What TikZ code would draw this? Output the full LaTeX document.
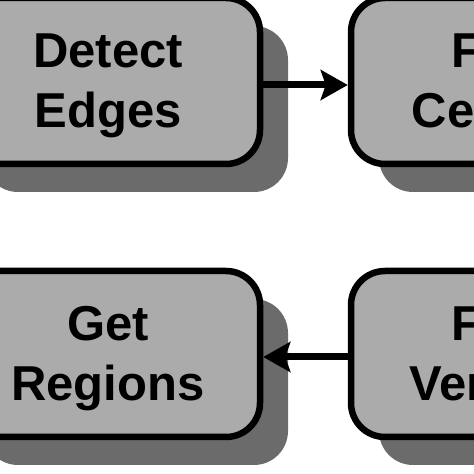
\documentclass[tikz,border=0pt]{standalone}
\usepackage{fontspec}
\setmainfont{Liberation Sans}
\usetikzlibrary{arrows.meta,shadows}
\begin{document}
\begin{tikzpicture}[x=1pt,y=1pt,
  stepbox/.style={draw=black, line width=6.5pt, rounded corners=34pt,
    fill=black!33, minimum width=304pt, minimum height=166pt,
    align=center, inner sep=0pt, text height=110pt, text depth=16pt,
    font=\fontsize{49}{60}\selectfont\bfseries,
    general shadow={fill=black!58, shadow xshift=28pt, shadow yshift=-28pt}},
  flow/.style={line width=7pt, -{Stealth[length=27pt,width=30pt,inset=5pt]}}]
\useasboundingbox (0,0) rectangle (474,474);
\node[stepbox] (de) at (108,393) {Detect\\Edges};
\node[stepbox] (fc) at (503,393) {Find\\Centers};
\node[stepbox] (gr) at (108,120) {Get\\Regions};
\node[stepbox] (fv) at (503,120) {Find\\Vertices};
\draw[flow] ([yshift=-4pt]de.east) -- ([yshift=-4pt]fc.west);
\draw[flow] ([yshift=-3pt]fv.west) -- ([yshift=-3pt]gr.east);
\end{tikzpicture}
\end{document}
